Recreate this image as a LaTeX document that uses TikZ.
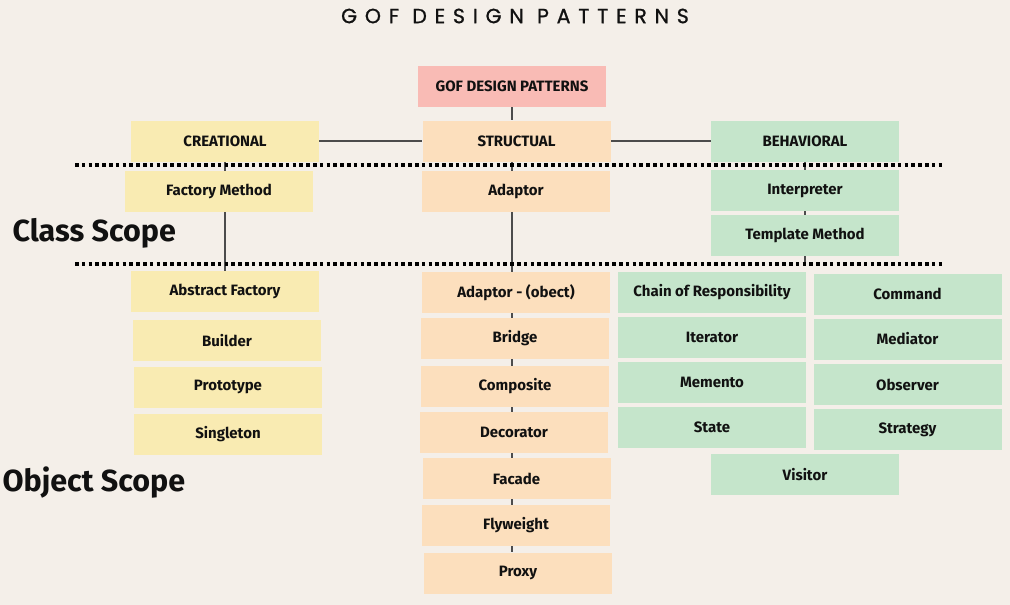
\documentclass[tikz,border=0pt]{standalone}
\usepackage{fontspec}
\setmainfont{Fira Sans}
\newfontfamily\titlefont[LetterSpace=38, FakeBold=1]{Poppins}
\usepackage{tikz}
\usetikzlibrary{calc, positioning}

\definecolor{paper}{HTML}{F4EFE9}
\definecolor{creamy}{HTML}{F9EBB2}
\definecolor{peach}{HTML}{FCDFBD}
\definecolor{mint}{HTML}{C5E5CB}
\definecolor{rose}{HTML}{F9BBB5}
\definecolor{ink}{HTML}{111111}

\pgfdeclarelayer{background}
\pgfsetlayers{background,main}

\begin{document}
\begin{tikzpicture}[x=1pt, y=-1pt,
    pattern box/.style={rectangle, minimum width=188pt, minimum height=41pt, inner sep=0pt,
      font=\fontsize{15}{17}\selectfont\bfseries, text=ink},
    creat box/.style={pattern box, fill=creamy},
    struct box/.style={pattern box, fill=peach},
    behav box/.style={pattern box, fill=mint},
    link/.style={draw=black!70, line width=1.2pt},
    scope line/.style={draw=black, line width=3.6pt, dash pattern=on 3.6pt off 3.2pt},
    scope label/.style={font=\fontsize{30.5}{33}\selectfont\bfseries, text=ink, anchor=west}]

  \useasboundingbox (0,0) rectangle (1010,605);

  \node[font=\titlefont\fontsize{20.5}{22}\selectfont, text=ink] (title) at (515,16) {GOF DESIGN PATTERNS};

  \node[pattern box, fill=rose] (root) at (512,86.5) {GOF DESIGN PATTERNS};

  % main groups
  \node[creat box] (creat) at (225,141) {CREATIONAL};
  \node[struct box] (struct) at (516.5,141) {STRUCTUAL};
  \node[behav box] (behav) at (805,141) {BEHAVIORAL};

  % class scope
  \node[creat box] (fm) at (219,191.5) {Factory Method};
  \node[struct box] (adp) at (516,191.5) {Adaptor};
  \node[behav box] (interp) at (805,190.5) {Interpreter};
  \node[behav box] (tmpl) at (805,235.5) {Template Method};

  % object scope
  \node[creat box] (absf) at (225,291.5) {Abstract Factory};
  \node[creat box] (builder) at (227,340.5) {Builder};
  \node[creat box] (proto) at (228,387) {Prototype};
  \node[creat box] (single) at (228,434.5) {Singleton};

  \node[struct box] (adpobj) at (516,292.5) {Adaptor - (obect)};
  \node[struct box] (bridge) at (515,338.5) {Bridge};
  \node[struct box] (comp) at (515,386.5) {Composite};
  \node[struct box] (deco) at (514,432.5) {Decorator};
  \node[struct box] (facade) at (516.5,478.5) {Facade};
  \node[struct box] (fly) at (516,525.5) {Flyweight};
  \node[struct box] (proxy) at (518,573) {Proxy};

  \node[behav box] (chain) at (712,292.5) {Chain of Responsibility};
  \node[behav box] (cmd) at (907.5,294) {Command};
  \node[behav box] (iter) at (712,337.5) {Iterator};
  \node[behav box] (medi) at (907.5,339) {Mediator};
  \node[behav box] (memo) at (712,382.5) {Memento};
  \node[behav box] (obs) at (907.5,384.5) {Observer};
  \node[behav box] (state) at (712,427.5) {State};
  \node[behav box] (strat) at (907.5,429.5) {Strategy};
  \node[behav box] (visit) at (805,474.5) {Visitor};

  \node[scope label] (classlbl) at (9,233) {Class Scope};
  \node[scope label] (objlbl) at (-1,483) {Object Scope};

  % dotted scope borders
  \coordinate (upL) at (75,165);
  \coordinate (upR) at (945,165);
  \coordinate (loL) at (75,264);
  \coordinate (loR) at (945,264);
  \coordinate (behavEnd) at (805,266);

  \begin{pgfonlayer}{background}
    \fill[paper] (0,0) rectangle (1010,605);
    \draw[link] (root.south) -- (root.south |- struct.north);
    \draw[link] (creat) -- (struct);
    \draw[link] (struct) -- (behav);
    \draw[link] (creat.south) -- (absf.north);
    \draw[link] (root.south |- struct.south) -- (root.south |- proxy.north);
    \draw[link] (behav.south) -- (behavEnd);
  \end{pgfonlayer}

  \draw[scope line] (upL) -- (upR);
  \draw[scope line] (loL) -- (loR);

\end{tikzpicture}
\end{document}
